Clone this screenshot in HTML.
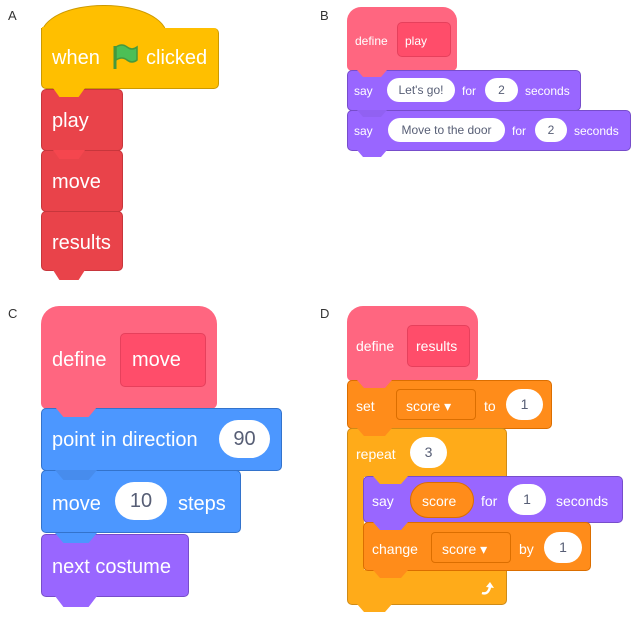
<!DOCTYPE html>
<html><head><style>
body{margin:0;width:639px;height:624px;background:#fff;position:relative;overflow:hidden;font-family:"Liberation Sans",sans-serif;}
.a{position:absolute;}
.b{position:absolute;border-radius:5px;box-sizing:border-box;}
.t{position:absolute;color:#fff;white-space:nowrap;}
.in{position:absolute;background:#fff;border-radius:20px;color:#575e75;text-align:center;box-sizing:border-box;white-space:nowrap;}
.tab{position:absolute;clip-path:polygon(0 0,100% 0,80% 100%,20% 100%);}
.lbl{position:absolute;font-size:13px;color:#333;}
</style></head><body>
<div class="lbl" style="left:8px;top:8px">A</div>
<div class="lbl" style="left:320px;top:8px">B</div>
<div class="lbl" style="left:8px;top:306px">C</div>
<div class="lbl" style="left:320px;top:306px">D</div>

<!-- A -->
<div class="a" style="left:41px;top:5px;width:124px;height:50px;background:#FFBF00;border:1px solid #CC9900;border-radius:62px 62px 0 0 / 30px 30px 0 0;"></div>
<div class="b" style="left:41px;top:28px;width:178px;height:61px;background:#FFBF00;border:1px solid #CC9900;border-top:none;border-radius:0 5px 5px 5px"></div>
<div class="a" style="left:42px;top:27px;width:122px;height:4px;background:#FFBF00"></div>
<div class="t" style="left:52px;top:47px;font-size:20px">when</div>
<svg class="a" style="left:111px;top:43px" width="28" height="28" viewBox="0 0 28 28"><path d="M4 3 V26" stroke="#45993d" stroke-width="3"/><path d="M5 4 Q11 0 16 4 Q21 8 26 4 V17 Q21 21 16 17 Q11 13 5 17Z" fill="#4cbf56" stroke="#45993d" stroke-width="1.5"/></svg>
<div class="t" style="left:146px;top:47px;font-size:20px">clicked</div>
<div class="b" style="left:41px;top:89px;width:82px;height:62px;background:#E9434A;border:1px solid #C7363C"></div>
<div class="tab" style="left:53px;top:88px;width:32px;height:9px;background:#FFBF00"></div>
<div class="t" style="left:52px;top:110px;font-size:20px">play</div>
<div class="b" style="left:41px;top:150px;width:82px;height:62px;background:#E9434A;border:1px solid #C7363C"></div>
<div class="tab" style="left:53px;top:150px;width:32px;height:9px;background:#E9434A;filter:brightness(1.05)"></div>
<div class="t" style="left:52px;top:171px;font-size:20px">move</div>
<div class="b" style="left:41px;top:211px;width:82px;height:60px;background:#E9434A;border:1px solid #C7363C"></div>
<div class="tab" style="left:53px;top:270px;width:32px;height:10px;background:#E9434A"></div>
<div class="t" style="left:52px;top:232px;font-size:20px">results</div>

<!-- B -->
<div class="b" style="left:347px;top:7px;width:110px;height:64px;background:#FF6680;border-radius:14px 14px 5px 5px"></div>
<div class="b" style="left:397px;top:22px;width:54px;height:35px;background:#FF4D6A;border:1px solid #e6405c"></div>
<div class="t" style="left:355px;top:34px;font-size:12px">define</div>
<div class="t" style="left:405px;top:34px;font-size:12px">play</div>
<div class="b" style="left:347px;top:70px;width:234px;height:41px;background:#9966FF;border:1px solid #774DCB"></div>
<div class="tab" style="left:357px;top:70px;width:30px;height:7px;background:#FF6680"></div>
<div class="t" style="left:354px;top:84px;font-size:12px">say</div>
<div class="in" style="left:387px;top:78px;width:68px;height:24px;font-size:12px;line-height:24px">Let's go!</div>
<div class="t" style="left:462px;top:84px;font-size:12px">for</div>
<div class="in" style="left:485px;top:78px;width:33px;height:24px;font-size:12px;line-height:24px">2</div>
<div class="t" style="left:525px;top:84px;font-size:12px">seconds</div>
<div class="b" style="left:347px;top:110px;width:284px;height:41px;background:#9966FF;border:1px solid #774DCB"></div>
<div class="tab" style="left:357px;top:110px;width:30px;height:7px;background:#9966FF;filter:brightness(0.95)"></div>
<div class="tab" style="left:357px;top:150px;width:30px;height:7px;background:#9966FF"></div>
<div class="t" style="left:354px;top:124px;font-size:12px">say</div>
<div class="in" style="left:388px;top:118px;width:117px;height:24px;font-size:12px;line-height:24px">Move to the door</div>
<div class="t" style="left:512px;top:124px;font-size:12px">for</div>
<div class="in" style="left:535px;top:118px;width:32px;height:24px;font-size:12px;line-height:24px">2</div>
<div class="t" style="left:574px;top:124px;font-size:12px">seconds</div>

<!-- C -->
<div class="b" style="left:41px;top:306px;width:176px;height:103px;background:#FF6680;border-radius:18px 18px 6px 6px"></div>
<div class="b" style="left:120px;top:333px;width:86px;height:54px;background:#FF4D6A;border:1px solid #e6405c"></div>
<div class="t" style="left:52px;top:349px;font-size:20px">define</div>
<div class="t" style="left:132px;top:349px;font-size:20px">move</div>
<div class="b" style="left:41px;top:408px;width:241px;height:63px;background:#4C97FF;border:1px solid #3373CC"></div>
<div class="tab" style="left:55px;top:407px;width:42px;height:10px;background:#FF6680"></div>
<div class="t" style="left:52px;top:429px;font-size:20px">point in direction</div>
<div class="in" style="left:219px;top:420px;width:51px;height:38px;font-size:20px;line-height:38px">90</div>
<div class="b" style="left:41px;top:470px;width:200px;height:63px;background:#4C97FF;border:1px solid #3373CC"></div>
<div class="tab" style="left:55px;top:470px;width:42px;height:10px;background:#4C97FF;filter:brightness(0.93)"></div>
<div class="t" style="left:52px;top:493px;font-size:20px">move</div>
<div class="in" style="left:115px;top:482px;width:52px;height:38px;font-size:20px;line-height:38px">10</div>
<div class="t" style="left:178px;top:493px;font-size:20px">steps</div>
<div class="b" style="left:41px;top:534px;width:148px;height:63px;background:#9966FF;border:1px solid #774DCB"></div>
<div class="tab" style="left:55px;top:533px;width:42px;height:10px;background:#4C97FF"></div>
<div class="tab" style="left:55px;top:596px;width:42px;height:11px;background:#9966FF"></div>
<div class="t" style="left:52px;top:556px;font-size:20px">next costume</div>

<!-- D -->
<div class="b" style="left:347px;top:306px;width:131px;height:75px;background:#FF6680;border-radius:16px 16px 5px 5px"></div>
<div class="b" style="left:407px;top:325px;width:63px;height:42px;background:#FF4D6A;border:1px solid #e6405c"></div>
<div class="t" style="left:356px;top:338px;font-size:14px">define</div>
<div class="t" style="left:416px;top:338px;font-size:14px">results</div>
<div class="b" style="left:347px;top:380px;width:205px;height:49px;background:#FF8C1A;border:1px solid #DB6E00"></div>
<div class="tab" style="left:357px;top:380px;width:35px;height:8px;background:#FF6680"></div>
<div class="t" style="left:356px;top:398px;font-size:14px">set</div>
<div class="b" style="left:396px;top:389px;width:80px;height:31px;background:#FF8C1A;border:1px solid #DB6E00;border-radius:4px"></div>
<div class="t" style="left:406px;top:398px;font-size:14px">score ▾</div>
<div class="t" style="left:484px;top:398px;font-size:14px">to</div>
<div class="in" style="left:506px;top:389px;width:37px;height:31px;font-size:14px;line-height:31px">1</div>
<div class="b" style="left:347px;top:428px;width:160px;height:49px;background:#FFAB19;border:1px solid #CF8B17;border-bottom:none;border-radius:5px 5px 0 0"></div>
<div class="tab" style="left:357px;top:428px;width:35px;height:8px;background:#FF8C1A"></div>
<div class="a" style="left:347px;top:470px;width:17px;height:105px;background:#FFAB19;border-left:1px solid #CF8B17;box-sizing:border-box"></div>
<div class="b" style="left:347px;top:570px;width:160px;height:35px;background:#FFAB19;border:1px solid #CF8B17;border-top:none;border-radius:0 0 5px 5px"></div>
<div class="tab" style="left:357px;top:604px;width:35px;height:8px;background:#FFAB19"></div>
<div class="t" style="left:356px;top:446px;font-size:14px">repeat</div>
<div class="in" style="left:410px;top:437px;width:37px;height:31px;font-size:14px;line-height:31px">3</div>
<div class="b" style="left:363px;top:476px;width:260px;height:47px;background:#9966FF;border:1px solid #774DCB"></div>
<div class="tab" style="left:373px;top:476px;width:35px;height:8px;background:#FFAB19"></div>
<div class="t" style="left:372px;top:493px;font-size:14px">say</div>
<div class="a" style="left:410px;top:482px;width:64px;height:36px;background:#FF8C1A;border:1px solid #DB6E00;border-radius:18px;box-sizing:border-box"></div>
<div class="t" style="left:422px;top:493px;font-size:14px">score</div>
<div class="t" style="left:481px;top:493px;font-size:14px">for</div>
<div class="in" style="left:508px;top:484px;width:38px;height:31px;font-size:14px;line-height:31px">1</div>
<div class="t" style="left:556px;top:493px;font-size:14px">seconds</div>
<div class="b" style="left:363px;top:522px;width:228px;height:49px;background:#FF8C1A;border:1px solid #DB6E00"></div>
<div class="tab" style="left:373px;top:522px;width:35px;height:8px;background:#9966FF"></div>
<div class="tab" style="left:373px;top:570px;width:35px;height:8px;background:#FF8C1A"></div>
<div class="t" style="left:372px;top:541px;font-size:14px">change</div>
<div class="b" style="left:431px;top:532px;width:80px;height:31px;background:#FF8C1A;border:1px solid #DB6E00;border-radius:4px"></div>
<div class="t" style="left:442px;top:541px;font-size:14px">score ▾</div>
<div class="t" style="left:519px;top:541px;font-size:14px">by</div>
<div class="in" style="left:544px;top:532px;width:38px;height:31px;font-size:14px;line-height:31px">1</div>
<svg class="a" style="left:479px;top:580px" width="18" height="16" viewBox="0 0 18 16"><path d="M3 13 Q9 15 11 7" stroke="#fff" stroke-width="2.5" fill="none"/><path d="M7 7 L11 2 L15 8Z" fill="#fff"/></svg>
</body></html>
